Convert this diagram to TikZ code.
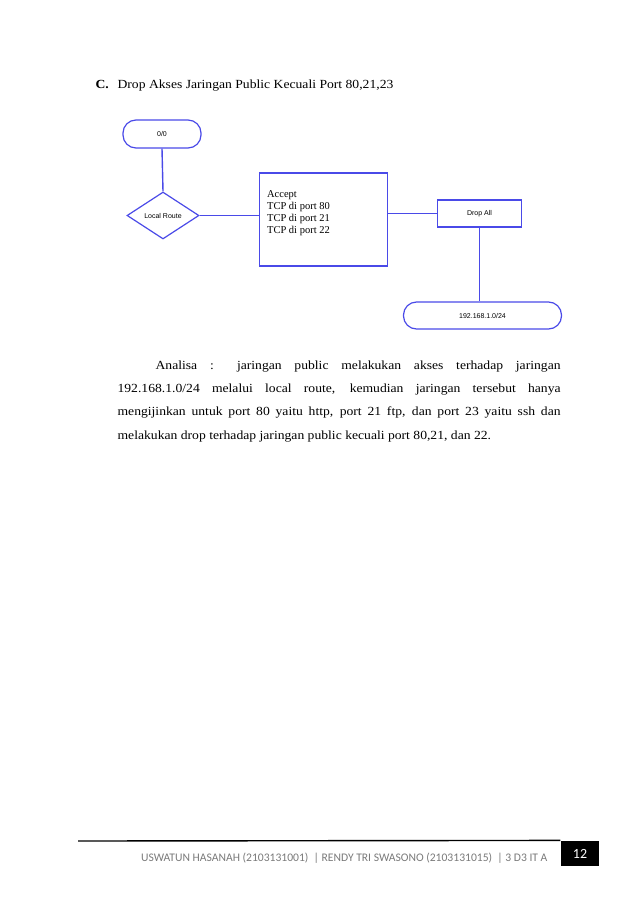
\documentclass[tikz,border=0pt]{standalone}
\usepackage{fontspec}
\setmainfont[FakeStretch=1.1]{Liberation Serif}
\newfontfamily\timesfont{Liberation Serif}
\newfontfamily\arialfont{Liberation Sans}
\newfontfamily\calibrifont{Carlito}
\usepackage{xcolor}
\definecolor{flowblue}{HTML}{4A4AE8}
\definecolor{footgrey}{HTML}{7A7A7A}
\usetikzlibrary{shapes.geometric}

\begin{document}
\begin{tikzpicture}[x=1pt,y=-1pt,line width=1.2pt]
  \tikzstyle{term}=[draw=flowblue,rounded corners=13pt,inner sep=0pt,font=\arialfont\fontsize{7}{8}\selectfont]
  \tikzstyle{proc}=[draw=flowblue,inner sep=0pt,font=\arialfont\fontsize{7}{8}\selectfont]
  \tikzstyle{dec}=[draw=flowblue,diamond,aspect=1.55,inner sep=0pt,minimum width=72pt,minimum height=47pt,font=\arialfont\fontsize{7}{8}\selectfont]
  \tikzstyle{wire}=[color=flowblue,line width=1.4pt]
  \tikzstyle{body}=[inner sep=0pt,anchor=base west,font=\fontsize{12.4}{14}\selectfont]

  \useasboundingbox[fill=white] (0,0) rectangle (638,902);

  % heading
  \node[body] (title) at (95,88) {\makebox[22pt][l]{\textbf{C.}}Drop Akses Jaringan Public Kecuali Port 80,21,23};

  % flow
  \node[term,minimum width=78pt,minimum height=28pt] (zero) at (162,134) {0/0};
  \node[dec] (route) at (163,215.5) {Local Route};
  \node[draw=flowblue,inner sep=0pt,minimum width=128pt,minimum height=93pt] (accept) at (323.5,219.5) {};
  \node[inner sep=0pt,anchor=base west,align=left,font=\timesfont\fontsize{10.5}{11.9}\selectfont] (rules) at (266.5,233)
    {Accept\\TCP di port 80\\TCP di port 21\\TCP di port 22};
  \node[proc,minimum width=84pt,minimum height=27pt] (drop) at (479.5,213.5) {Drop All};
  \node[term,minimum width=158pt,minimum height=27pt] (net) at (482.5,315.5) {192.168.1.0/24};

  \draw[wire] (zero.south) -- (route.north);
  \draw[wire] (route.east) -- (route.east -| accept.west);
  \draw[wire] (accept.east |- drop.west) -- (drop.west);
  \draw[wire] (drop.south) -- (drop.south |- net.north);

  % analysis
  \node[body] (lineA) at (155,369) {\makebox[405pt][s]{Analisa : jaringan public melakukan akses terhadap jaringan}};
  \node[body] (lineB) at (117,392) {\makebox[443pt][s]{192.168.1.0/24 melalui local route, kemudian jaringan tersebut hanya}};
  \node[body] (lineC) at (117,415.5) {\makebox[443pt][s]{mengijinkan untuk port 80 yaitu http, port 21 ftp, dan port 23 yaitu ssh dan}};
  \node[body] (lineD) at (117,439) {melakukan drop terhadap jaringan public kecuali port 80,21, dan 22.};

  % footer
  \coordinate (rulestart) at (78,841);
  \node[fill=black,inner sep=0pt,minimum width=38pt,minimum height=25pt,text=white,font=\calibrifont\fontsize{14}{15}\selectfont] (page) at (580,853.5) {12};
  \draw[black,line width=1.4pt] (rulestart) -- (page.north west);
  \node[inner sep=0pt,anchor=base east,text=footgrey,font=\calibrifont\fontsize{11.6}{13}\selectfont] (foot) at (548,861)
    {USWATUN HASANAH (2103131001) \ | RENDY TRI SWASONO (2103131015) \ | 3 D3 IT A};
\end{tikzpicture}
\end{document}
